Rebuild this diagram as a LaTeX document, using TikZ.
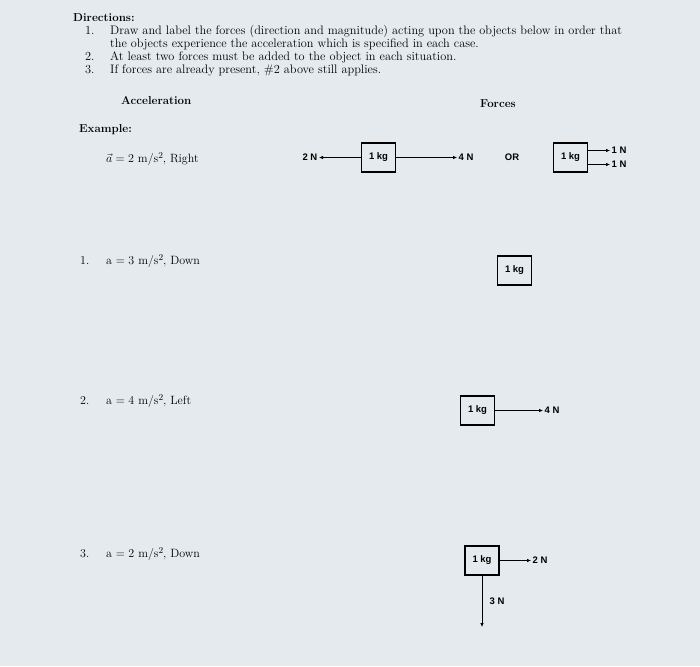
\documentclass[tikz,border=0pt]{standalone}
\usepackage{fontspec}
\newfontfamily\labelfont{Liberation Sans}
\usetikzlibrary{arrows.meta}
\definecolor{sheet}{RGB}{228,234,237}

\begin{document}
\begin{tikzpicture}[x=1pt,y=-1pt,font=\fontsize{12.3}{13}\selectfont]
    \tikzstyle{txt}=[anchor=base west,inner sep=0pt]
    \tikzstyle{head}=[txt,font=\bfseries\fontsize{11.5}{13}\selectfont]
    \tikzstyle{mass}=[draw=black,line width=1.8pt,minimum width=34pt,minimum height=29pt,inner sep=0pt,font=\labelfont\bfseries\fontsize{9.5}{10}\selectfont]
    \tikzstyle{flabel}=[inner sep=1.5pt,font=\labelfont\bfseries\fontsize{9.5}{10}\selectfont]
    \tikzstyle{force}=[line width=0.7pt,-{Latex[length=4pt,width=3.5pt]}]
    \fill[sheet] (0,0) rectangle (700,666);
    \useasboundingbox (0,0) rectangle (700,666);

    % directions
    \node[head] (dir) at (73,22) {Directions:};
    \foreach \num/\y in {1./35, 2./61, 3./74}
        \node[txt] (n-\num) at (85,\y) {\num};
    \node[txt] (d1) at (110,35) {Draw and label the forces (direction and magnitude) acting upon the objects below in order that};
    \node[txt] (d1b) at (110,48) {the objects experience the acceleration which is specified in each case.};
    \node[txt] (d2) at (110,61) {At least two forces must be added to the object in each situation.};
    \node[txt] (d3) at (110,74) {If forces are already present, \#2 above still applies.};

    \node[head] (hacc) at (121,104) {Acceleration};
    \node[head] (hfor) at (480,107) {Forces};
    \node[head] (hex) at (79,132) {Example:};

    % accelerations
    \node[txt,font=\fontsize{12}{13}\selectfont] (a0) at (106,162) {$\vec{a}=2$ m/s\raisebox{0.6ex}{\small 2}, Right};
    \foreach \num/\y/\val/\dir in {1/264/3/Down, 2/404/4/Left, 3/557/2/Down} {
        \node[txt,font=\fontsize{12}{13}\selectfont] (i-\num) at (80,\y) {\num.};
        \node[txt,font=\fontsize{12}{13}\selectfont] (a\num) at (106,\y) {a $=\val$ m/s\raisebox{0.6ex}{\small 2}, \dir};
    }

    % example
    \node[mass] (ex1) at (378.5,157.5) {1 kg};
    \node[flabel,anchor=east] (ex1L) at (319,157.5) {2 N};
    \node[flabel,anchor=west] (ex1R) at (457,157.5) {4 N};
    \draw[force] (ex1.west) -- (ex1L.east);
    \draw[force] (ex1.east) -- (ex1R.west);
    \node[flabel] (or) at (512,157.5) {OR};
    \node[mass] (ex2) at (570.5,157.5) {1 kg};
    \coordinate (ex2t) at ([yshift=7pt]ex2.east);
    \coordinate (ex2b) at ([yshift=-7pt]ex2.east);
    \node[flabel,anchor=west] (ex2Rt) at (610,150.5) {1 N};
    \node[flabel,anchor=west] (ex2Rb) at (610,164.5) {1 N};
    \draw[force] (ex2t) -- (ex2Rt.west);
    \draw[force] (ex2b) -- (ex2Rb.west);

    % problem 1
    \node[mass] (m1) at (514.5,270.5) {1 kg};

    % problem 2
    \node[mass] (m2) at (477.5,410.5) {1 kg};
    \node[flabel,anchor=west] (m2R) at (543,410.5) {4 N};
    \draw[force] (m2.east) -- (m2R.west);

    % problem 3
    \node[mass] (m3) at (482,560.5) {1 kg};
    \node[flabel,anchor=west] (m3R) at (531,560.5) {2 N};
    \coordinate (m3D) at (482,627);
    \draw[force] (m3.east) -- (m3R.west);
    \draw[force] (m3.south) -- (m3D);
    \node[flabel,anchor=west] (m3Dl) at (488,601) {3 N};
\end{tikzpicture}
\end{document}
